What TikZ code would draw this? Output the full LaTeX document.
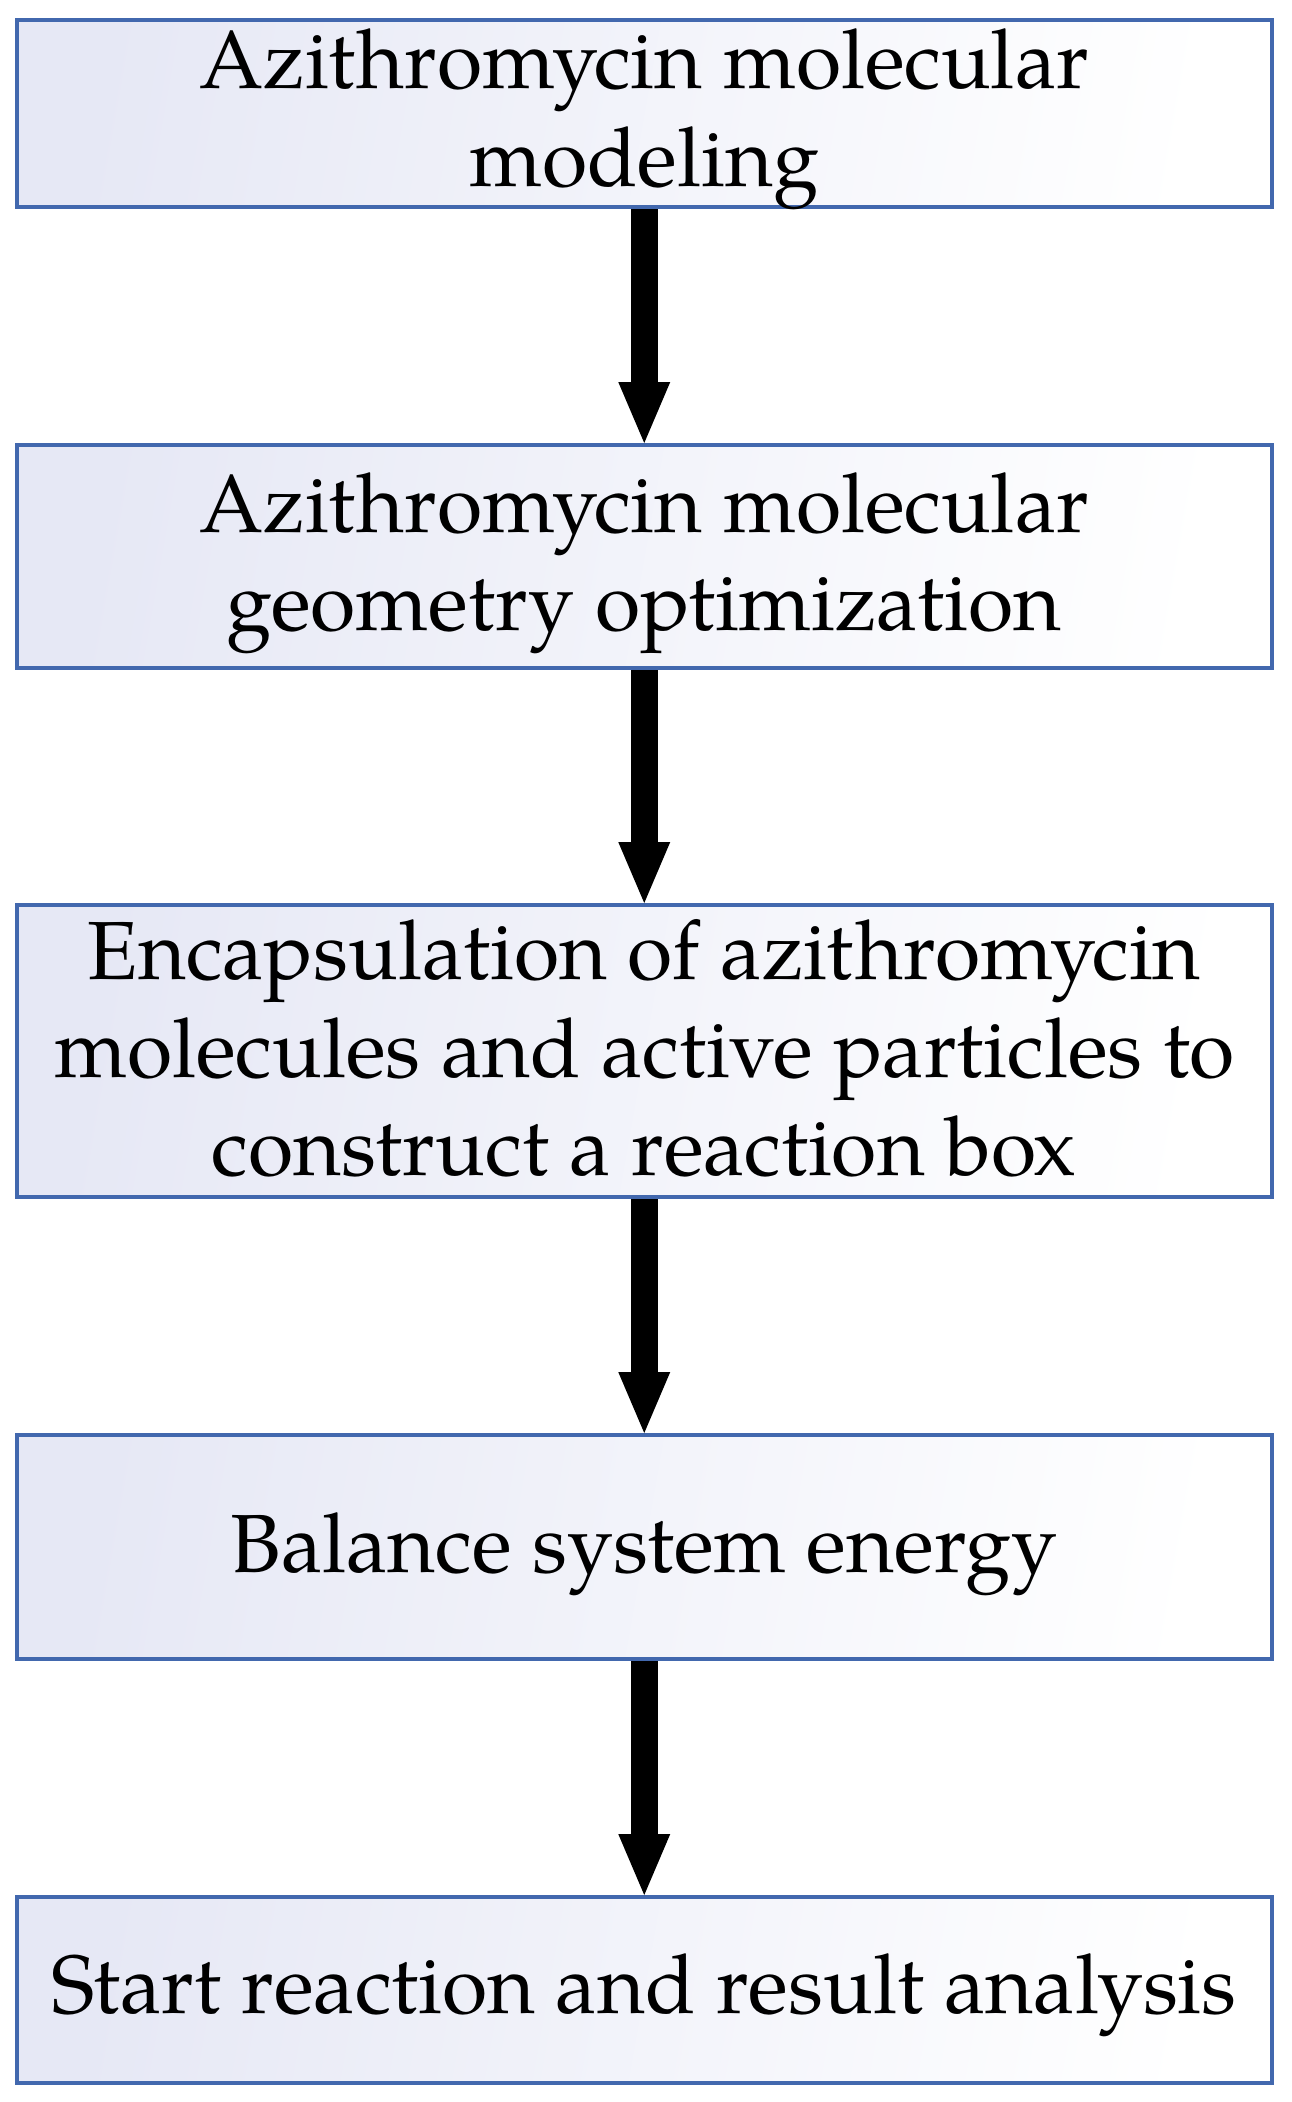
\documentclass[tikz,border=0pt]{standalone}
\usepackage{fontspec}
\setmainfont{TeX Gyre Pagella}
\definecolor{boxborder}{RGB}{66,104,174}
\definecolor{boxfill}{RGB}{230,232,245}
\begin{document}
\begin{tikzpicture}[x=1pt,y=-1pt,
  flowbox/.style={draw=boxborder, line width=4pt, inner sep=0pt,
    text width=1254.5pt, align=flush center, anchor=base,
    font={\fontsize{82.5pt}{98pt}\selectfont},
    execute at begin node={\spaceskip=0.25em\relax},
    left color=boxfill, middle color=white, right color=white,
    shading angle=80},
  shaft/.style={line width=27pt, black},
  head/.style={fill=black}]
\useasboundingbox (0,0) rectangle (1291,2102);
\node[flowbox, text height=68.5pt, text depth=119pt] (b1) at (644.25,88)
  {Azithromycin molecular\\modeling};
\node[flowbox, text height=87pt, text depth=136pt] (b2) at (644.25,532)
  {Azithromycin molecular\\geometry optimization};
\node[flowbox, text height=74pt, text depth=218pt] (b3) at (644.25,979)
  {Encapsulation of azithromycin\\molecules and active particles to\\construct a reaction box};
\node[flowbox, text height=137pt, text depth=87pt] (b4) at (644.25,1572)
  {Balance system energy};
\node[flowbox, text height=116pt, text depth=70pt] (b5) at (644.25,2013)
  {Start reaction and result analysis};
\foreach \a/\b in {b1/b2,b2/b3,b3/b4,b4/b5}{
  \draw[shaft] (\a.south) -- ([yshift=60pt]\b.north);
  \fill[head] (\b.north) -- ([xshift=-26pt,yshift=61pt]\b.north)
    -- ([xshift=26pt,yshift=61pt]\b.north) -- cycle;
}
\end{tikzpicture}
\end{document}
